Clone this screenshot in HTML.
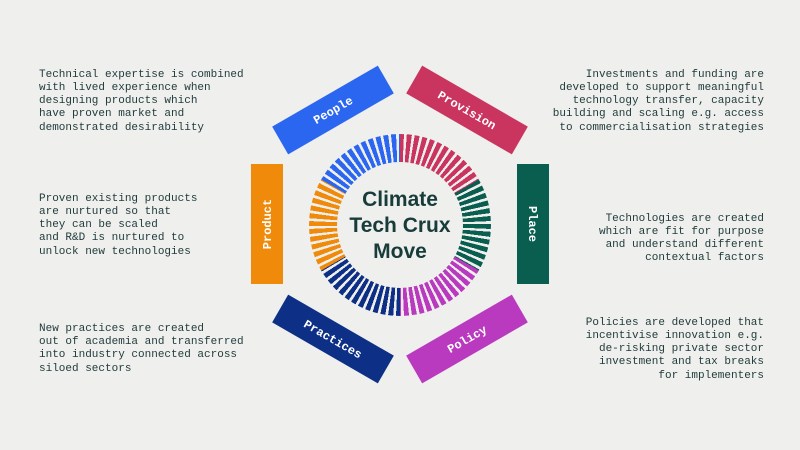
<!DOCTYPE html>
<html><head><meta charset="utf-8"><style>
html,body{margin:0;padding:0;background:#efefed;}
svg{display:block;position:absolute;left:0;top:0}
.t{font-family:"Liberation Mono",monospace;font-size:11px;fill:#1e3a3a;}
.b{font-family:"Liberation Mono",monospace;font-size:12px;fill:#fff;font-weight:bold}
#ring{position:absolute;left:309px;top:134px;width:182px;height:182px;border-radius:50%;
background:repeating-conic-gradient(from -2.5deg,#efefed 0 1.8deg,transparent 1.8deg 5deg),
conic-gradient(#c9355f 0 60deg,#0a5e50 60deg 120deg,#b93abf 120deg 180deg,#0d2f86 180deg 240deg,#ef8a0a 240deg 300deg,#2b66f0 300deg 360deg);}
#inner{position:absolute;left:337px;top:162px;width:126px;height:126px;border-radius:50%;background:#efefed;}
</style></head><body>
<div id="ring"></div><div id="inner"></div>
<svg width="800" height="450" viewBox="0 0 800 450" xmlns="http://www.w3.org/2000/svg">
<text x="400" y="206" text-anchor="middle" font-family="Liberation Sans,sans-serif" font-weight="bold" font-size="21" fill="#173c3a">Climate</text>
<text x="400" y="232" text-anchor="middle" font-family="Liberation Sans,sans-serif" font-weight="bold" font-size="21" fill="#173c3a">Tech Crux</text>
<text x="400" y="258" text-anchor="middle" font-family="Liberation Sans,sans-serif" font-weight="bold" font-size="21" fill="#173c3a">Move</text>

<g transform="translate(333,110) rotate(-30)"><rect x="-61" y="-16" width="122" height="32" fill="#2b66f0"/><text class="b" x="0" y="4" text-anchor="middle">People</text></g>
<g transform="translate(467,110) rotate(30)"><rect x="-61" y="-16" width="122" height="32" fill="#c9355f"/><text class="b" x="0" y="4" text-anchor="middle">Provision</text></g>
<g transform="translate(333,339) rotate(30)"><rect x="-61" y="-16" width="122" height="32" fill="#0d2f86"/><text class="b" x="0" y="4" text-anchor="middle">Practices</text></g>
<g transform="translate(467,339) rotate(-30)"><rect x="-61" y="-16" width="122" height="32" fill="#b93abf"/><text class="b" x="0" y="4" text-anchor="middle">Policy</text></g>
<g transform="translate(267,224) rotate(-90)"><rect x="-60" y="-16" width="120" height="32" fill="#ef8a0a"/><text class="b" x="0" y="4" text-anchor="middle">Product</text></g>
<g transform="translate(533,224) rotate(90)"><rect x="-60" y="-16" width="120" height="32" fill="#0a5e50"/><text class="b" x="0" y="4" text-anchor="middle">Place</text></g>

<g class="t">
<text x="39" y="77">Technical expertise is combined</text>
<text x="39" y="90">with lived experience when</text>
<text x="39" y="103">designing products which</text>
<text x="39" y="116">have proven market and</text>
<text x="39" y="130">demonstrated desirability</text>

<text x="39" y="201">Proven existing products</text>
<text x="39" y="214">are nurtured so that</text>
<text x="39" y="227">they can be scaled</text>
<text x="39" y="240">and R&amp;D is nurtured to</text>
<text x="39" y="254">unlock new technologies</text>

<text x="39" y="331">New practices are created</text>
<text x="39" y="344">out of academia and transferred</text>
<text x="39" y="357">into industry connected across</text>
<text x="39" y="371">siloed sectors</text>
</g>
<g class="t" text-anchor="end">
<text x="764" y="77">Investments and funding are</text>
<text x="764" y="90">developed to support meaningful</text>
<text x="764" y="103">technology transfer, capacity</text>
<text x="764" y="116">building and scaling e.g. access</text>
<text x="764" y="130">to commercialisation strategies</text>

<text x="764" y="221">Technologies are created</text>
<text x="764" y="234">which are fit for purpose</text>
<text x="764" y="247">and understand different</text>
<text x="764" y="260">contextual factors</text>

<text x="764" y="325">Policies are developed that</text>
<text x="764" y="338">incentivise innovation e.g.</text>
<text x="764" y="351">de-risking private sector</text>
<text x="764" y="364">investment and tax breaks</text>
<text x="764" y="378">for implementers</text>
</g>
</svg>
</body></html>
